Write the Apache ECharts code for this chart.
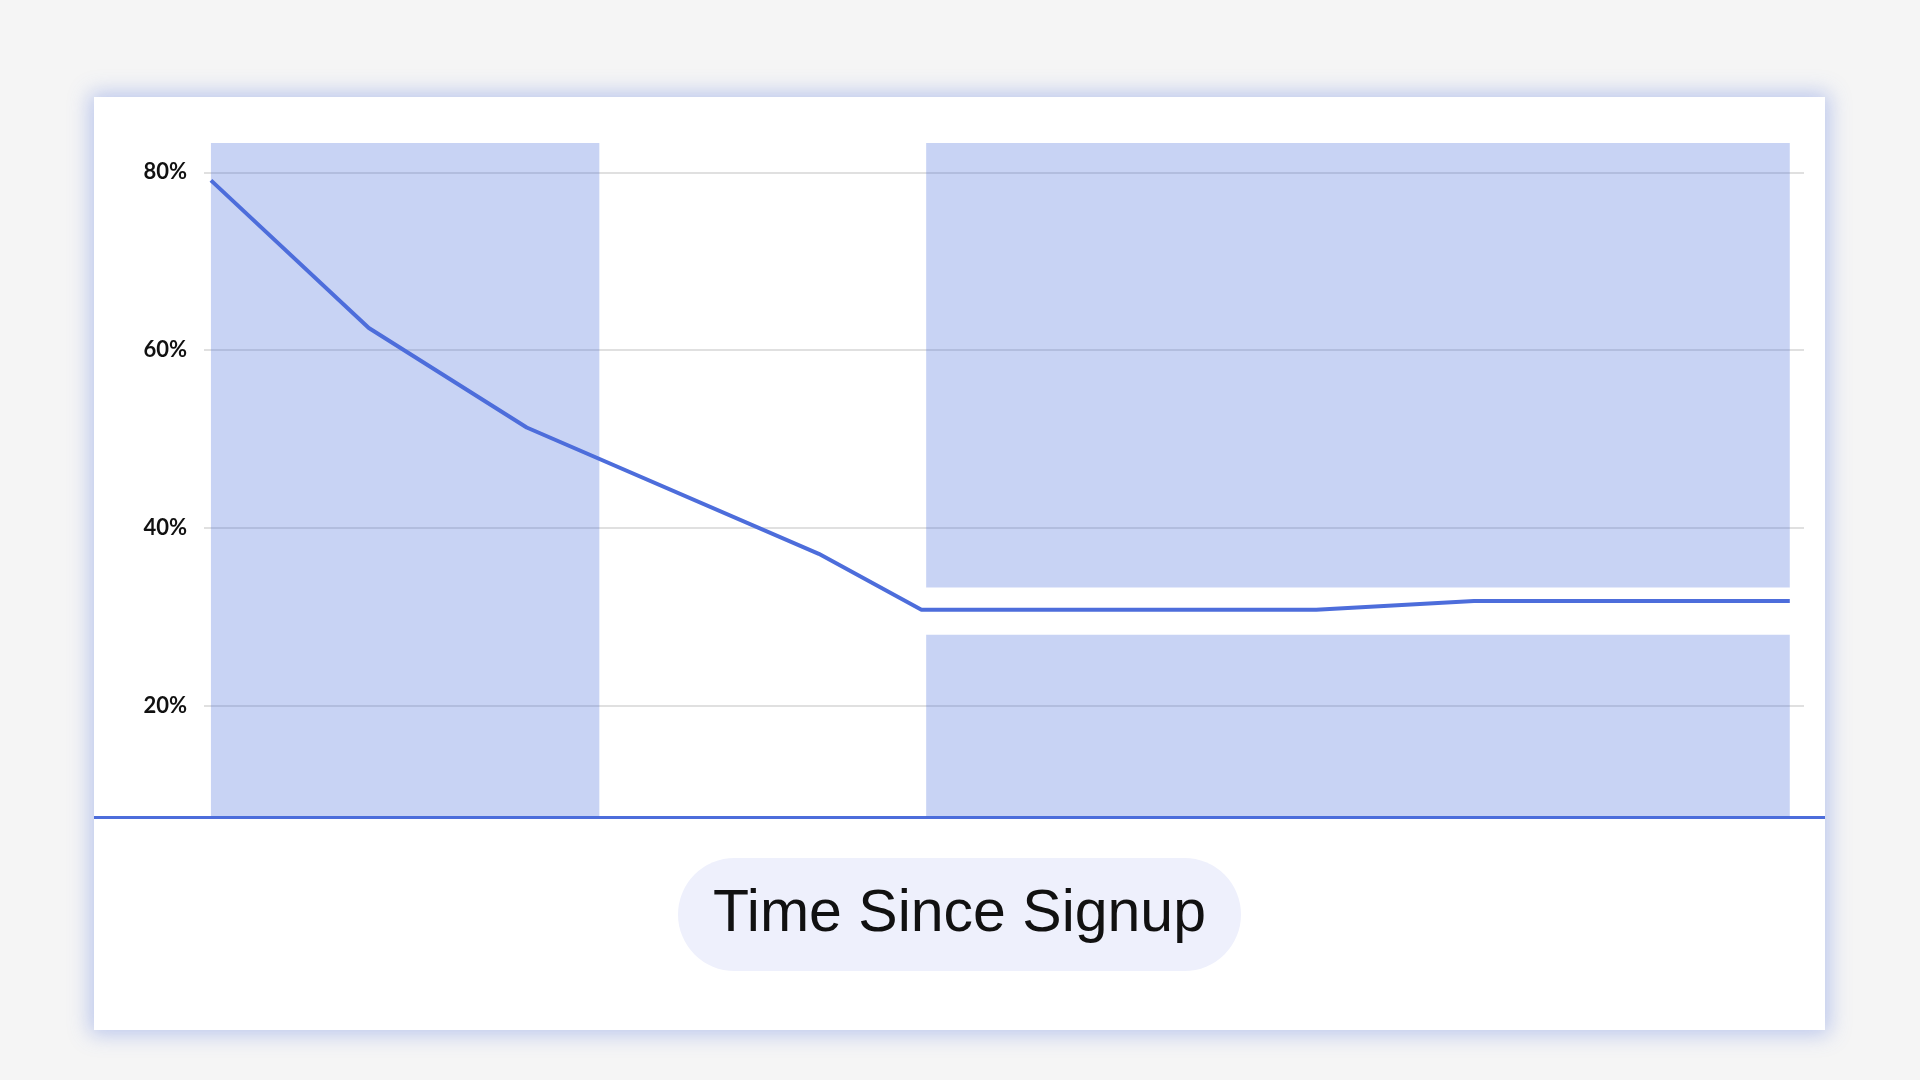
<!DOCTYPE html>
<html lang="en">
<head>
    <meta charset="UTF-8">
    <title>retention</title>
    <style>
        html, body { margin: 0; padding: 0; background: #f5f5f5; }
        #card {
            position: absolute;
            left: 94px;
            top: 97px;
            width: 1731px;
            height: 933px;
            background: #fff;
            box-shadow: 0 0 20px 4px rgba(74, 108, 220, 0.35);
        }
    </style>
</head>
<body>
<div id="card"></div>

<script type="text/javascript" src="https://cdn.jsdelivr.net/npm/echarts@6/dist/echarts.min.js"></script>
<script type="text/javascript">
    // time since signup (x) and share of users still active (y, %)
    var timeSince = [0, 1, 2, 3.85, 4.5, 7, 8, 10];
    var retention = [79.1, 62.5, 51.3, 37.1, 30.8, 30.8, 31.8, 31.8];

    // y tick labels
    var yTicks = [20, 40, 60, 80];

    // shaded periods: [xFrom, xTo, yFrom, yTo] (null = axis edge)
    var bandStart = [0, 4.53, 4.53];
    var bandEnd = [2.46, 10, 10];
    var bandLow = [null, 33.3, null];
    var bandHigh = [null, null, 28.0];

    var axisTitle = 'Time Since Signup';

    var lineColor = '#4d6ddb';
    var bandColor = 'rgba(74, 108, 220, 0.3)';
    var gridColor = '#e0e0e0';

    var chart = echarts.init(document.getElementById('card'));

    var areas = bandStart.map(function (s, i) {
        var a = {xAxis: s}, b = {xAxis: bandEnd[i]};
        if (bandLow[i] !== null) a.yAxis = bandLow[i];
        if (bandHigh[i] !== null) b.yAxis = bandHigh[i];
        return [a, b];
    });

    chart.setOption({
        animation: false,
        grid: [
            {left: 110, right: 21, top: 46, bottom: 213},
            {left: 0, right: 0, top: 46, bottom: 213}
        ],
        xAxis: [{
            type: 'value',
            gridIndex: 0,
            min: -0.044,
            max: 10.09,
            axisLine: {show: false},
            axisTick: {show: false},
            axisLabel: {show: false},
            splitLine: {show: false}
        }, {
            type: 'value',
            gridIndex: 1,
            min: 0,
            max: 1,
            axisLine: {show: true, lineStyle: {color: lineColor, width: 3}},
            axisTick: {show: false},
            axisLabel: {show: false},
            splitLine: {show: false},
            name: axisTitle,
            nameLocation: 'middle',
            nameGap: 41,
            nameTextStyle: {
                fontFamily: 'Liberation Sans',
                fontSize: 59,
                lineHeight: 61,
                color: '#111',
                backgroundColor: '#eef0fc',
                borderRadius: 57,
                padding: [26, 35]
            }
        }],
        yAxis: [{
            type: 'value',
            gridIndex: 0,
            min: 7.5,
            max: 83.3,
            axisLine: {show: false},
            axisTick: {show: false, customValues: yTicks},
            axisLabel: {
                customValues: yTicks,
                formatter: '{value}%',
                margin: 17,
                color: '#111',
                fontFamily: 'Lato',
                fontWeight: 700,
                fontSize: 22
            },
            splitLine: {show: true, lineStyle: {color: gridColor, width: 2}}
        }, {
            type: 'value',
            gridIndex: 1,
            show: false
        }],
        series: [{
            type: 'line',
            xAxisIndex: 0,
            yAxisIndex: 0,
            data: timeSince.map(function (t, i) { return [t, retention[i]]; }),
            showSymbol: false,
            lineStyle: {color: lineColor, width: 4},
            itemStyle: {color: lineColor},
            markArea: {
                silent: true,
                itemStyle: {color: bandColor},
                data: areas
            }
        }]
    });
</script>
</body>
</html>
